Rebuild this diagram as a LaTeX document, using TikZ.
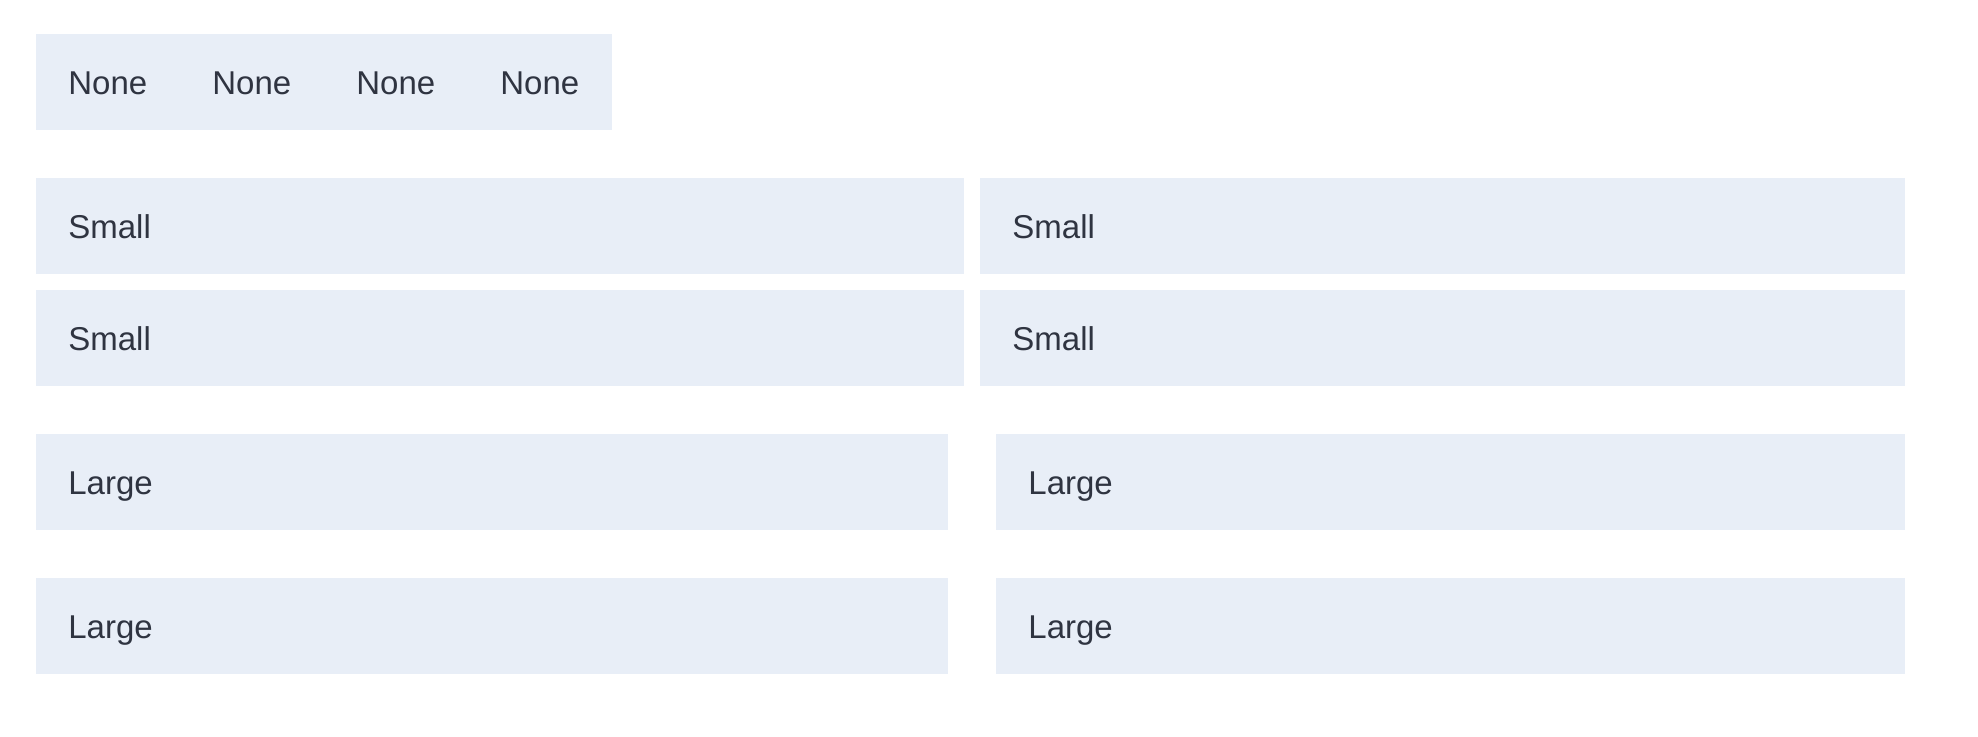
\documentclass[tikz,border=0pt]{standalone}
\usepackage{fontspec}
\setmainfont{Liberation Sans}
\usetikzlibrary{positioning}

\definecolor{cellfill}{RGB}{232,238,247}
\definecolor{cellink}{RGB}{47,52,65}

\tikzset{
  cellbox/.style={fill=cellfill, draw=none, anchor=north west, inner sep=0pt,
    inner xsep=16pt, minimum height=48pt, text width=#1, align=left,
    text height=11.8pt, text depth=0pt, text=cellink,
    font=\fontsize{16.5}{20}\selectfont},
  celltext/.style={anchor=base west, inner sep=0pt, text=cellink,
    font=\fontsize{16.5}{20}\selectfont}
}

\begin{document}
\begin{tikzpicture}[x=0.5pt, y=-0.5pt]

    \useasboundingbox (0,0) rectangle (1978,736);

    % no gap
    \node[fill=cellfill, anchor=north west, inner sep=0pt,
          minimum width=288pt, minimum height=48pt] (nonebar) at (36,34) {};
    \foreach \i in {0,...,3}
        \node[celltext] (none\i) at ({68+144*\i},94) {None};

    % small gap
    \node[cellbox=432pt] (smallA) at (36,178) {Small};
    \node[cellbox=430.5pt] (smallB) at (980,178) {Small};
    \node[cellbox=432pt] (smallC) at (36,290) {Small};
    \node[cellbox=430.5pt] (smallD) at (980,290) {Small};

    % large gap
    \node[cellbox=424pt] (largeA) at (36,434) {Large};
    \node[cellbox=422.5pt] (largeB) at (996,434) {Large};
    \node[cellbox=424pt] (largeC) at (36,578) {Large};
    \node[cellbox=422.5pt] (largeD) at (996,578) {Large};

\end{tikzpicture}
\end{document}
